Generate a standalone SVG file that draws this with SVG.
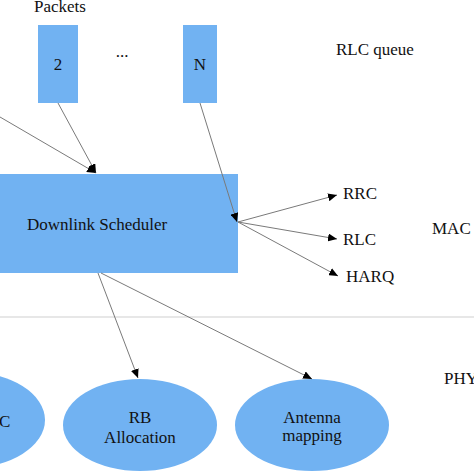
<svg xmlns="http://www.w3.org/2000/svg" width="474" height="474" viewBox="0 0 474 474" font-family="'Liberation Serif', 'DejaVu Serif', serif" font-size="17">
<style>
text{fill:#111}
.node{fill:#71b2f2}
.conn line{stroke:#7a7a7a;stroke-width:1}
.mid{text-anchor:middle}
</style>
<defs>
<marker id="ah" markerUnits="userSpaceOnUse" markerWidth="10" markerHeight="8" refX="9" refY="4" orient="auto">
<path d="M0,0 L9,4 L0,8 z" fill="#000"/>
</marker>
</defs>
<rect width="474" height="474" fill="#fff"/>
<line x1="0" y1="317" x2="474" y2="317" stroke="#cfcfcf" stroke-width="1"/>
<text x="60" y="12" class="mid">Packets</text>
<text x="122" y="57" class="mid">...</text>
<text x="336" y="55">RLC queue</text>
<text x="432" y="234">MAC</text>
<text x="444" y="384">PHY</text>
<g id="pkt2"><rect class="node" x="38" y="25" width="40" height="78"/><text x="58" y="70" class="mid">2</text></g>
<g id="pktN"><rect class="node" x="183" y="25" width="34" height="78"/><text x="200" y="70" class="mid">N</text></g>
<g id="sched"><rect class="node" x="0" y="174" width="238" height="99"/><text x="27" y="230">Downlink Scheduler</text></g>
<g id="rrc"><text x="343" y="199">RRC</text></g>
<g id="rlc"><text x="343" y="245">RLC</text></g>
<g id="harq"><text x="346" y="282">HARQ</text></g>
<g id="left"><ellipse class="node" cx="-32" cy="420" rx="77" ry="48"/><text x="-1" y="427">C</text></g>
<g id="rb"><ellipse class="node" cx="140" cy="425" rx="77" ry="46"/><text x="140" y="423" class="mid">RB</text><text x="140" y="443" class="mid">Allocation</text></g>
<g id="ant"><ellipse class="node" cx="312" cy="425" rx="77" ry="46"/><text x="312" y="423" class="mid">Antenna</text><text x="312" y="441" class="mid">mapping</text></g>
<g id="connectors" class="conn">
<line x1="0" y1="117" x2="96" y2="173" marker-end="url(#ah)"/>
<line x1="58" y1="103" x2="96" y2="173" marker-end="url(#ah)"/>
<line x1="200" y1="103" x2="237" y2="222" marker-end="url(#ah)"/>
<line x1="238" y1="222" x2="337" y2="195" marker-end="url(#ah)"/>
<line x1="238" y1="222" x2="337" y2="239" marker-end="url(#ah)"/>
<line x1="238" y1="222" x2="338" y2="276" marker-end="url(#ah)"/>
<line x1="98" y1="273" x2="138" y2="378" marker-end="url(#ah)"/>
<line x1="101" y1="273" x2="312" y2="379" marker-end="url(#ah)"/>
</g>
</svg>
